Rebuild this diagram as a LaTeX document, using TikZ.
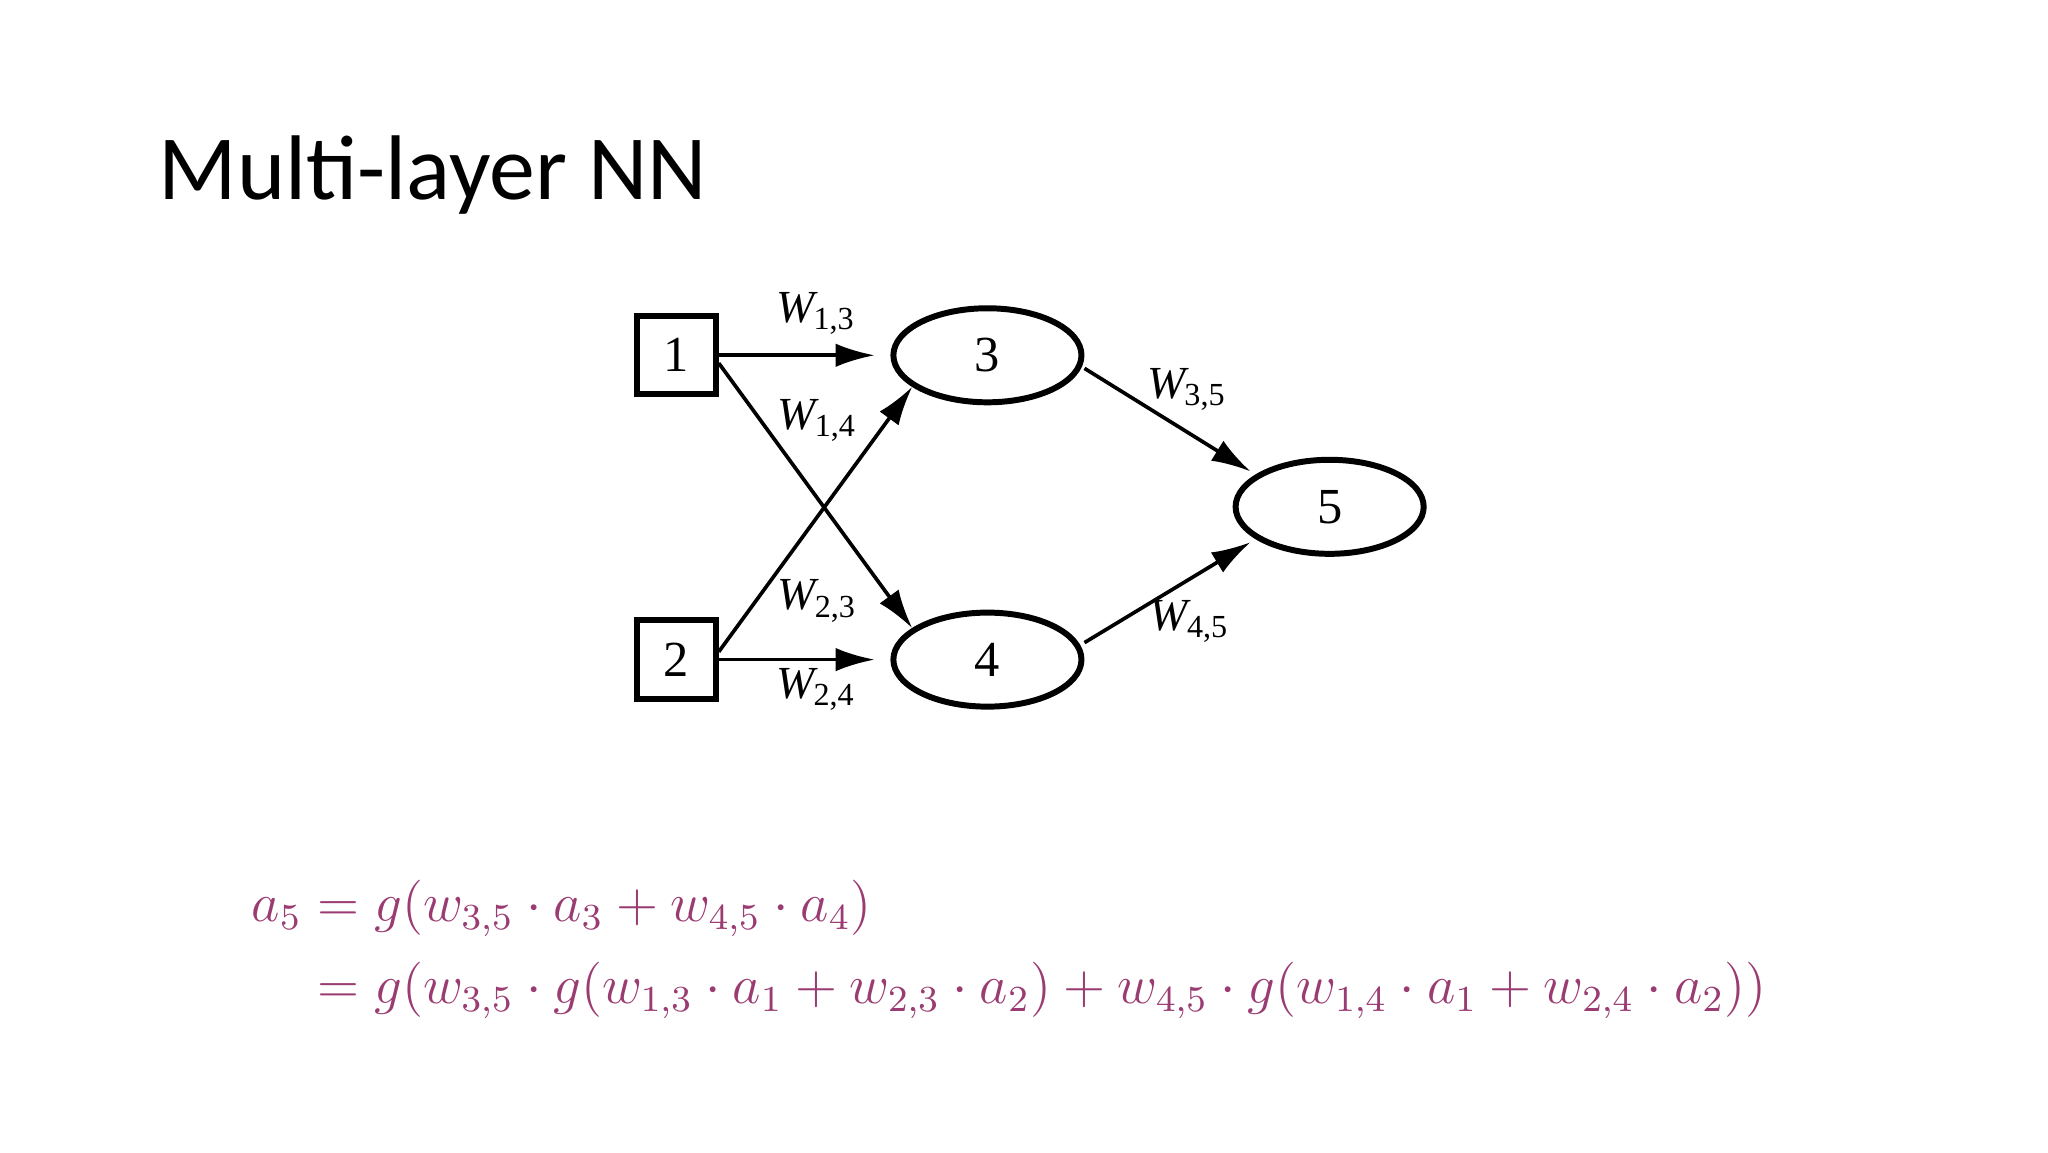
\documentclass[tikz,border=0pt]{standalone}
\usepackage{amsmath}
\usepackage{fontspec}
\newfontfamily\titlefont{Carlito}
\newfontfamily\timesfont{Liberation Serif}
\usetikzlibrary{arrows.meta,shapes.geometric}
\definecolor{mpurple}{HTML}{9A3C72}
\newcommand{\wlab}[1]{\textit{W}\kern-1pt\raisebox{-0.35ex}{\fontsize{7}{8}\selectfont #1}}
\begin{document}
\begin{tikzpicture}[x=1cm,y=-1cm,
  inp/.style={draw,line width=1.3pt,minimum size=0.6cm,inner sep=0pt,font=\timesfont\fontsize{11}{13}\selectfont},
  hid/.style={draw,ellipse,line width=1.3pt,minimum width=1.44cm,minimum height=0.72cm,inner sep=0pt,font=\timesfont\fontsize{11}{13}\selectfont},
  con/.style={line width=0.8pt,-{Latex[length=0.3cm,width=0.18cm]}},
  wl/.style={font=\timesfont\fontsize{10}{12}\selectfont,inner sep=1pt}]
\useasboundingbox (0,0) rectangle (15.68,8.82);
\node[anchor=base west,inner sep=0pt,font=\titlefont\fontsize{20}{24}\selectfont] (title) at (1.21,1.53) {Multi-layer NN};
\node[inp] (n1) at (5.18,2.72) {1};
\node[inp] (n2) at (5.18,5.05) {2};
\node[hid] (n3) at (7.56,2.72) {3};
\node[hid] (n4) at (7.56,5.05) {4};
\node[hid] (n5) at (10.18,3.88) {5};
\draw[con] (n1.east) -- ([xshift=-0.12cm]n3.west);
\draw[con] (n2.east) -- ([xshift=-0.12cm]n4.west);
\draw[con] ([yshift=-0.06cm]n1.east) -- ([xshift=-0.05cm,yshift=-0.03cm]n4.north west);
\draw[con] ([yshift=0.06cm]n2.east) -- ([xshift=-0.05cm,yshift=0.03cm]n3.south west);
\draw[con] ([yshift=-0.1cm]n3.east) -- ([xshift=-0.08cm]n5.north west);
\draw[con] ([yshift=0.13cm]n4.east) -- ([xshift=-0.08cm]n5.south west);
\node[wl] (w13) at (6.24,2.4) {\wlab{1,3}};
\node[wl] (w14) at (6.25,3.22) {\wlab{1,4}};
\node[wl] (w23) at (6.25,4.6) {\wlab{2,3}};
\node[wl] (w24) at (6.24,5.28) {\wlab{2,4}};
\node[wl] (w35) at (9.08,2.98) {\wlab{3,5}};
\node[wl] (w45) at (9.1,4.76) {\wlab{4,5}};
\node[anchor=north west,inner sep=0pt,text=mpurple,font=\fontsize{11.5}{14}\selectfont] (eq) at (1.92,6.7) {$\begin{aligned}
a_5 &= g(w_{3,5}\cdot a_3 + w_{4,5}\cdot a_4)\\[1pt]
&= g(w_{3,5}\cdot g(w_{1,3}\cdot a_1 + w_{2,3}\cdot a_2) + w_{4,5}\cdot g(w_{1,4}\cdot a_1 + w_{2,4}\cdot a_2))
\end{aligned}$};
\end{tikzpicture}
\end{document}
